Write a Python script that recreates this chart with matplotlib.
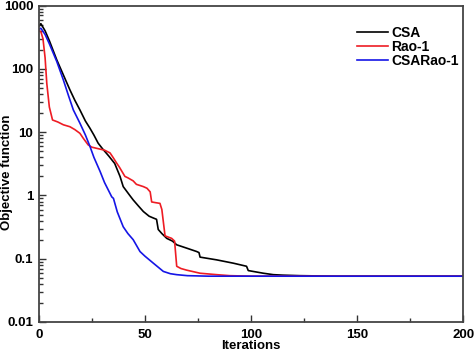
import numpy as np
import matplotlib
matplotlib.use('Agg')
import matplotlib.pyplot as plt
from matplotlib.ticker import LogLocator, NullFormatter, FixedLocator

plt.rcParams['font.family'] = ['Liberation Sans', 'DejaVu Sans']
plt.rcParams['font.weight'] = 'bold'

# convergence curves (iteration, objective value)
csa_it = [0, 1, 3, 5, 8.5, 12, 14.7, 17, 19.4, 22, 24.1, 26, 28, 30, 33, 35.8,
          38.3, 39.8, 42.9, 44.5, 47, 49.3, 52, 54, 55.5, 56.3, 58, 60.3, 63,
          65, 69.7, 74.4, 75.5, 76, 83.8, 91.7, 97.9, 98.7, 105.8, 110.5, 115,
          123, 140, 200]
csa_val = [470, 520, 400, 280, 139, 75, 46.6, 32, 22.5, 15, 11.6, 9, 6.7, 5.5,
           4.2, 3.2, 2.0, 1.38, 1.0, 0.85, 0.68, 0.557, 0.47, 0.44, 0.42, 0.29,
           0.25, 0.21, 0.19, 0.166, 0.147, 0.13, 0.125, 0.106, 0.096, 0.085,
           0.076, 0.065, 0.059, 0.056, 0.055, 0.054, 0.053, 0.053]

rao_it = [0, 1, 2, 3, 3.8, 5, 6.5, 9, 11.6, 14.7, 17, 19.4, 21, 23.3, 25, 28.9,
          31, 33.6, 35, 36.7, 38, 40.6, 42, 44.5, 46, 49.3, 51, 52.5, 53.2, 55,
          57.1, 58, 59.5, 61, 62.6, 64, 65, 67, 69.7, 76, 83.8, 90, 100, 200]
rao_val = [400, 390, 300, 150, 59, 25, 15.6, 14.5, 13.1, 12.2, 11, 9.6, 8, 6.3,
           5.8, 5.4, 5.2, 4.7, 4.0, 3.25, 2.8, 2.0, 1.9, 1.7, 1.5, 1.38, 1.3,
           1.14, 0.79, 0.77, 0.75, 0.6, 0.23, 0.22, 0.21, 0.19, 0.076, 0.07,
           0.066, 0.059, 0.056, 0.054, 0.053, 0.053]

hyb_it = [0, 1, 3, 5, 8.5, 11.6, 14, 16.3, 19.4, 22, 24.1, 26, 28.9, 31, 34.4,
          35.2, 37, 39.8, 42, 44.5, 47.7, 50, 54, 58.7, 62, 65, 70, 80, 200]
hyb_val = [420, 440, 350, 250, 131, 67, 38, 22.5, 13.9, 9, 6.0, 4, 2.4, 1.6,
           0.95, 0.9, 0.55, 0.32, 0.25, 0.2, 0.13, 0.11, 0.085, 0.063, 0.058,
           0.056, 0.054, 0.053, 0.053]

x_ticks = [0, 50, 100, 150, 200]
y_ticks = [0.01, 0.1, 1, 10, 100, 1000]
y_labels = ['0.01', '0.1', '1', '10', '100', '1000']

fig = plt.figure(figsize=(4.74, 3.54), dpi=100)
ax = fig.add_axes([0.0817, 0.0904, 0.8957, 0.8936])

ax.plot(csa_it, csa_val, color='black', lw=1.2, label='CSA')
ax.plot(rao_it, rao_val, color='#ee1c24', lw=1.2, label='Rao-1')
ax.plot(hyb_it, hyb_val, color='#1515e6', lw=1.2, label='CSARao-1')

ax.set_yscale('log')
ax.set_xlim(0, 200)
ax.set_ylim(0.01, 1000)
ax.set_xticks(x_ticks)
ax.set_xticklabels([str(t) for t in x_ticks])
ax.xaxis.set_minor_locator(FixedLocator([25, 75, 125, 175]))
ax.set_yticks(y_ticks)
ax.set_yticklabels(y_labels)
ax.yaxis.set_minor_locator(LogLocator(base=10, subs=np.arange(2, 10)))
ax.yaxis.set_minor_formatter(NullFormatter())

ax.tick_params(which='both', direction='in', colors='#333333', labelcolor='black',
               labelsize=9.5, width=1.0)
ax.tick_params(which='major', length=5)
ax.tick_params(which='minor', length=3)
ax.tick_params(axis='x', pad=5)
ax.tick_params(axis='y', pad=4)
for s in ax.spines.values():
    s.set_color('#444444')
    s.set_linewidth(1.3)

ax.set_xlabel('Iterations', fontsize=9.5, fontweight='bold')
ax.set_ylabel('Objective function', fontsize=9.5, fontweight='bold')
# labels sit tight against the figure edges, as in the original
ax.xaxis.set_label_coords(0.5, -0.057)
ax.yaxis.set_label_coords(-0.061, 0.474)

ax.legend(loc='upper left', frameon=False, fontsize=10, handlelength=2.2,
          handletextpad=0.25, labelspacing=0.0, borderpad=0)
leg = ax.get_legend()
leg.set_bbox_to_anchor((350 / 474, 1 - 19 / 354), transform=fig.transFigure)

fig.savefig('out.png', dpi=100)
